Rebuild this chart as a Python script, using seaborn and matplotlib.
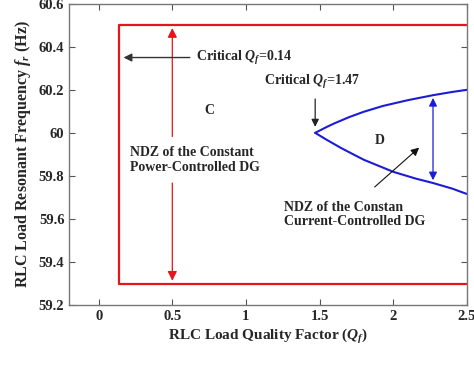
import numpy as np
import pandas as pd
import seaborn as sns
import matplotlib.pyplot as plt

# NDZ of constant power-controlled DG (rectangle, open on the right side)
power_qf = [2.5, 0.14, 0.14, 2.5]
power_fr = [60.5, 60.5, 59.3, 59.3]

# NDZ of constant current-controlled DG (upper and lower boundary)
upper_qf = [1.47, 1.55, 1.6, 1.7, 1.8, 1.93, 2.1, 2.27, 2.4, 2.5]
upper_fr = [60.0, 60.028, 60.044, 60.073, 60.098, 60.125, 60.152, 60.175, 60.19, 60.2]
lower_qf = [1.47, 1.55, 1.65, 1.8, 2.0, 2.15, 2.27, 2.4, 2.5]
lower_fr = [60.0, 59.967, 59.928, 59.875, 59.819, 59.788, 59.767, 59.741, 59.716]

xticks = [0, 0.5, 1, 1.5, 2, 2.5]
yticks = [59.2, 59.4, 59.6, 59.8, 60, 60.2, 60.4, 60.6]

sns.set_style('ticks')
plt.rcParams['font.family'] = ['Liberation Serif', 'DejaVu Serif']
plt.rcParams['font.weight'] = 'bold'
plt.rcParams['mathtext.fontset'] = 'custom'
plt.rcParams['mathtext.it'] = 'Liberation Serif:italic:bold'
plt.rcParams['mathtext.rm'] = 'Liberation Serif:bold'

red = '#e8141c'
blue = '#1c1cd8'

fig = plt.figure(figsize=(4.74, 3.72), dpi=100)
ax = fig.add_axes([0.146, 0.18, 0.839, 0.81])

power = pd.DataFrame({'qf': power_qf, 'fr': power_fr})
upper = pd.DataFrame({'qf': upper_qf, 'fr': upper_fr})
lower = pd.DataFrame({'qf': lower_qf, 'fr': lower_fr})

sns.lineplot(data=power, x='qf', y='fr', sort=False, estimator=None, color=red, lw=1.6, ax=ax)
sns.lineplot(data=upper, x='qf', y='fr', sort=False, estimator=None, color=blue, lw=1.5, ax=ax)
sns.lineplot(data=lower, x='qf', y='fr', sort=False, estimator=None, color=blue, lw=1.5, ax=ax)

ax.set_xlim(-0.2, 2.5)
ax.set_ylim(59.2, 60.6)
ax.set_xticks(xticks)
ax.set_xticklabels(['0', '0.5', '1', '1.5', '2', '2.5'])
ax.set_yticks(yticks)
ax.set_yticklabels(['59.2', '59.4', '59.6', '59.8', '60', '60.2', '60.4', '60.6'])
ax.tick_params(direction='in', top=True, right=True, length=4, width=0.8,
               color='#555555', labelsize=10.5)
for lbl in ax.get_xticklabels() + ax.get_yticklabels():
    lbl.set_fontweight('bold')
for s in ax.spines.values():
    s.set_color('#777777')
    s.set_linewidth(1.0)

ax.set_xlabel('RLC Load Quality Factor ($Q_f$)', fontsize=11, fontweight='bold', labelpad=3)
ax.set_ylabel('RLC Load Resonant Frequency $f_r$ (Hz)', fontsize=11.5, fontweight='bold', labelpad=4)

# red double arrow (power-controlled NDZ)
ax.annotate('', xy=(0.5, 60.5), xytext=(0.5, 59.97),
            arrowprops=dict(arrowstyle='-|>', color=red, lw=0.9, mutation_scale=14))
ax.annotate('', xy=(0.5, 59.3), xytext=(0.5, 59.78),
            arrowprops=dict(arrowstyle='-|>', color=red, lw=0.9, mutation_scale=14))

# blue double arrow (current-controlled NDZ)
ax.annotate('', xy=(2.27, 60.175), xytext=(2.27, 59.767),
            arrowprops=dict(arrowstyle='<|-|>', color=blue, lw=0.9, mutation_scale=12))

# critical Qf annotations
ax.annotate('Critical $Q_f$=0.14', xy=(0.15, 60.35), xytext=(0.66, 60.35),
            fontsize=10, fontweight='bold', va='center', ha='left',
            arrowprops=dict(arrowstyle='-|>', color='#333333', lw=1.0, mutation_scale=12))
ax.annotate('', xy=(1.47, 60.015), xytext=(1.47, 60.17),
            arrowprops=dict(arrowstyle='-|>', color='#222222', lw=0.9, mutation_scale=11))
ax.text(1.12, 60.235, 'Critical $Q_f$=1.47', fontsize=10, fontweight='bold',
        va='center', ha='left')

ax.annotate('', xy=(2.19, 59.94), xytext=(1.86, 59.74),
            arrowprops=dict(arrowstyle='-|>', color='#111111', lw=0.8, mutation_scale=12))

ax.text(0.75, 60.105, 'C', fontsize=10, fontweight='bold', ha='center', va='center')
ax.text(1.91, 59.965, 'D', fontsize=10, fontweight='bold', ha='center', va='center')
ax.text(0.21, 59.875, 'NDZ of the Constant\nPower-Controlled DG', fontsize=10,
        fontweight='bold', ha='left', va='center', linespacing=1.15)
ax.text(1.26, 59.62, 'NDZ of the Constan\nCurrent-Controlled DG', fontsize=10,
        fontweight='bold', ha='left', va='center', linespacing=1.15)

fig.savefig('out.png', dpi=100)
